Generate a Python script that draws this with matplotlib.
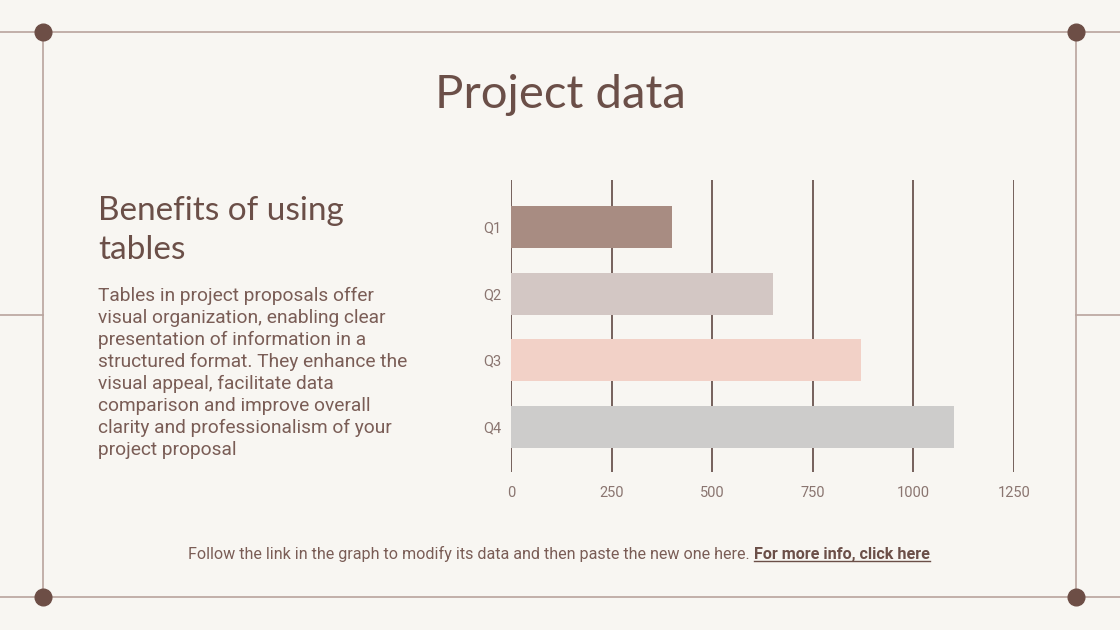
import matplotlib.pyplot as plt
from matplotlib.lines import Line2D

quarters = ['Q1', 'Q2', 'Q3', 'Q4']
values = [400, 650, 870, 1100]
bar_colors = ['#a88c82', '#d3c7c4', '#f2d1c7', '#cdcccb']
xticks = [0, 250, 500, 750, 1000, 1250]

bg = '#f8f6f2'
brown = '#6b4f48'
frame_col = '#b9a49d'

fig = plt.figure(figsize=(11.2, 6.3), dpi=100, facecolor=bg)

# frame lines and corner dots
W, H = 1120, 630
def px(x, y):
    return x / W, 1 - y / H

for yy in [32, 597]:
    fig.add_artist(Line2D([0, 1], [1 - yy / H] * 2, color=frame_col, lw=1.2))
for xx in [43, 1076]:
    fig.add_artist(Line2D([xx / W] * 2, [1 - 32 / H, 1 - 597 / H], color=frame_col, lw=1.2))
fig.add_artist(Line2D([0, 43 / W], [0.5, 0.5], color=frame_col, lw=1.2))
fig.add_artist(Line2D([1076 / W, 1], [0.5, 0.5], color=frame_col, lw=1.2))
for xx, yy in [(43, 32), (1076, 32), (43, 597), (1076, 597)]:
    fig.add_artist(Line2D([xx / W], [1 - yy / H], marker='o', markersize=12,
                          color='#6d4e46', lw=0))

# texts
fig.text(0.5, px(0, 95)[1], 'Project data', ha='center', va='center',
         fontsize=34, color=brown, family='Lato')
fig.text(98 / W, px(0, 196)[1], 'Benefits of using\ntables', ha='left', va='top',
         fontsize=24, color=brown, family='Lato', linespacing=1.38)
body = ("Tables in project proposals offer\nvisual organization, enabling clear\n"
        "presentation of information in a\nstructured format. They enhance the\n"
        "visual appeal, facilitate data\ncomparison and improve overall\n"
        "clarity and professionalism of your\nproject proposal")
fig.text(98 / W, px(0, 287)[1], body, ha='left', va='top', fontsize=13.8,
         color='#7a5d56', family='Roboto', linespacing=1.28)

t1 = fig.text(px(188, 0)[0], px(0, 554)[1], 'Follow the link in the graph to modify its data and then paste the new one here. ',
              ha='left', va='center', fontsize=11.6, color='#7a5d56', family='Roboto')
fig.canvas.draw()
r = fig.canvas.get_renderer()
bb = t1.get_window_extent(r)
x2 = bb.x1 / fig.bbox.width
t2 = fig.text(x2, px(0, 554)[1], 'For more info, click here', ha='left', va='center',
              fontsize=11.6, color=brown, family='Roboto', weight='bold')
bb2 = t2.get_window_extent(r)
uy = (bb2.y0 + 1) / fig.bbox.height
fig.add_artist(Line2D([bb2.x0 / fig.bbox.width, bb2.x1 / fig.bbox.width], [uy, uy],
                      color=brown, lw=1))

# chart
ax = fig.add_axes([511 / W, 1 - 472 / H, (1014 - 511) / W, (472 - 180) / H])
ax.set_facecolor(bg)
ypos = range(len(quarters))
ax.barh(ypos, values, height=0.63, color=bar_colors, zorder=3)
ax.set_xlim(0, 1250)
ax.set_ylim(3.675, -0.705)
ax.set_xticks(xticks)
ax.set_yticks(list(ypos))
ax.set_yticklabels(quarters)
ax.grid(axis='x', color='#6b5550', lw=1.3, zorder=0)
for s in ax.spines.values():
    s.set_visible(False)
ax.tick_params(length=0, labelsize=10.5, labelcolor='#8a7570')
ax.tick_params(axis='y', pad=7)
ax.tick_params(axis='x', pad=10)
for lab in ax.get_xticklabels() + ax.get_yticklabels():
    lab.set_family('Roboto')

fig.savefig('out.png', dpi=100, facecolor=bg)
